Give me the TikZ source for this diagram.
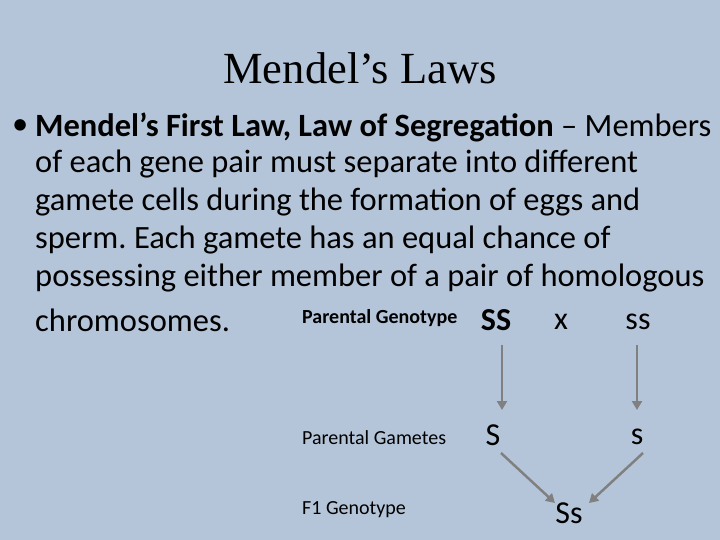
\documentclass[tikz,border=0pt]{standalone}
\usepackage{fontspec}
\setmainfont{Carlito}
\newfontfamily\titlefont{Liberation Serif}
\usetikzlibrary{arrows.meta}
\definecolor{bg}{HTML}{B5C5D9}
\definecolor{arr}{HTML}{808080}
\frenchspacing
\begin{document}
\begin{tikzpicture}[x=1pt,y=-1pt,
  line/.style={anchor=west,inner sep=0pt,font=\fontsize{32.5}{36}\selectfont},
  small/.style={anchor=west,inner sep=0pt,font=\fontsize{20}{22}\selectfont},
  gen/.style={inner sep=2pt,font=\fontsize{32}{36}\selectfont},
  arrw/.style={draw=arr,line width=2.5pt,-{Triangle[length=9pt,width=10pt]}}]
\useasboundingbox[fill=bg] (0,0) rectangle (720,540);
\node[inner sep=0pt,font=\titlefont\fontsize{44.5}{48}\selectfont] (title) at (360,68) {Mendel’s Laws};
\node[line] (b) at (12,127) {•};
\node[line] (l1) at (35,127) {\textbf{Mendel’s First Law, Law of Segregation} – Members};
\node[line] (l2) at (35,164) {of each gene pair must separate into different};
\node[line] (l3) at (35,202) {gamete cells during the formation of eggs and};
\node[line] (l4) at (35,240) {sperm. Each gamete has an equal chance of};
\node[line] (l5) at (35,278) {possessing either member of a pair of homologous};
\node[line] (l6) at (35,320) {chromosomes.};
\node[small] (pg) at (302,318) {\textbf{Parental Genotype}};
\node[gen] (SS) at (496,320) {\textbf{SS}};
\node[gen] (x) at (561,322) {x};
\node[gen] (ss) at (638,322) {ss};
\node[small] (pgam) at (302,438) {Parental Gametes};
\node[gen] (S) at (493,435) {S};
\node[gen] (s) at (637,437) {s};
\node[small] (f1) at (302,510) {F1 Genotype};
\node[gen] (Ss) at (569,513) {Ss};
\draw[arrw] (502,345) -- (502,410);
\draw[arrw] (637,345) -- (637,410);
\draw[arrw] (501,453) -- (555,503);
\draw[arrw] (643,453) -- (589,503);
\end{tikzpicture}
\end{document}
